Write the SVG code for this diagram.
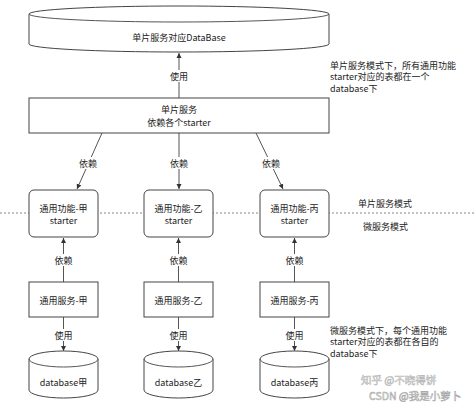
<svg xmlns="http://www.w3.org/2000/svg" width="474" height="404" viewBox="0 0 474 404">
<style>
text{font-family:"Noto Sans CJK SC","Noto Sans",sans-serif;font-size:9px;fill:#222;}
.c{text-anchor:middle;dominant-baseline:central;}
.n{text-anchor:start;dominant-baseline:central;}
.shape{fill:#fff;stroke:#444;stroke-width:1;}
.edge{fill:none;stroke:#555;stroke-width:1;}
.lbl{fill:#fff;stroke:none;}
.wm{font-size:10.5px;fill:#fff;stroke:#bbb;stroke-width:0.6;}
</style>
<defs>
<marker id="ah" markerUnits="userSpaceOnUse" markerWidth="6" markerHeight="6" refX="5" refY="3" orient="auto">
<path d="M0,0.5 L5,3 L0,5.5 z" fill="#333"/>
</marker>
</defs>
<rect width="474" height="404" fill="#fff"/>
<line x1="0" y1="213" x2="474" y2="213" stroke="#666" stroke-width="0.8" stroke-dasharray="2,2"/>
<g id="edges">
<line class="edge" x1="179" y1="98" x2="179" y2="53" marker-end="url(#ah)"/>
<rect class="lbl" x="168" y="70" width="22" height="12"/><text class="c" x="179" y="76">使用</text>
<line class="edge" x1="102" y1="133" x2="77" y2="189" marker-end="url(#ah)"/>
<rect class="lbl" x="77" y="157" width="22" height="12"/><text class="c" x="88" y="163">依赖</text>
<line class="edge" x1="179" y1="133" x2="179" y2="189" marker-end="url(#ah)"/>
<rect class="lbl" x="168" y="157" width="22" height="12"/><text class="c" x="179" y="163">依赖</text>
<line class="edge" x1="256" y1="133" x2="283" y2="189" marker-end="url(#ah)"/>
<rect class="lbl" x="260" y="157" width="22" height="12"/><text class="c" x="271" y="163">依赖</text>
<line class="edge" x1="63.5" y1="282" x2="63.5" y2="238" marker-end="url(#ah)"/>
<rect class="lbl" x="52.5" y="254" width="22" height="12"/><text class="c" x="63.5" y="260">依赖</text>
<line class="edge" x1="178.5" y1="282" x2="178.5" y2="238" marker-end="url(#ah)"/>
<rect class="lbl" x="167.5" y="254" width="22" height="12"/><text class="c" x="178.5" y="260">依赖</text>
<line class="edge" x1="294.5" y1="282" x2="294.5" y2="238" marker-end="url(#ah)"/>
<rect class="lbl" x="283.5" y="254" width="22" height="12"/><text class="c" x="294.5" y="260">依赖</text>
<line class="edge" x1="63.5" y1="317" x2="63.5" y2="351" marker-end="url(#ah)"/>
<rect class="lbl" x="52.5" y="329" width="22" height="12"/><text class="c" x="63.5" y="335">使用</text>
<line class="edge" x1="178.5" y1="317" x2="178.5" y2="351" marker-end="url(#ah)"/>
<rect class="lbl" x="167.5" y="329" width="22" height="12"/><text class="c" x="178.5" y="335">使用</text>
<line class="edge" x1="294.5" y1="317" x2="294.5" y2="351" marker-end="url(#ah)"/>
<rect class="lbl" x="283.5" y="329" width="22" height="12"/><text class="c" x="294.5" y="335">使用</text>
</g>
<g id="db-main">
<path class="shape" d="M29,14 L29,44 A150,8 0 0 0 329,44 L329,14 A150,8 0 0 0 29,14 Z"/>
<path class="edge" stroke="#444" d="M29,14 A150,8 0 0 0 329,14"/>
<text class="c" x="179" y="37">单片服务对应DataBase</text>
</g>
<g id="mono">
<rect class="shape" x="29" y="98" width="300" height="35"/>
<text class="c" x="179" y="109.5">单片服务</text>
<text class="c" x="179" y="122">依赖各个starter</text>
</g>
<g id="starter-a">
<rect class="shape" x="29" y="190" width="69" height="47" rx="5"/>
<text class="c" x="63.5" y="208">通用功能-甲</text>
<text class="c" x="63.5" y="220.5">starter</text>
</g>
<g id="starter-b">
<rect class="shape" x="144" y="190" width="69" height="47" rx="5"/>
<text class="c" x="178.5" y="208">通用功能-乙</text>
<text class="c" x="178.5" y="220.5">starter</text>
</g>
<g id="starter-c">
<rect class="shape" x="260" y="190" width="69" height="47" rx="5"/>
<text class="c" x="294.5" y="208">通用功能-丙</text>
<text class="c" x="294.5" y="220.5">starter</text>
</g>
<g id="svc-a">
<rect class="shape" x="29" y="282" width="69" height="35"/>
<text class="c" x="63.5" y="300">通用服务-甲</text>
</g>
<g id="svc-b">
<rect class="shape" x="144" y="282" width="69" height="35"/>
<text class="c" x="178.5" y="300">通用服务-乙</text>
</g>
<g id="svc-c">
<rect class="shape" x="260" y="282" width="69" height="35"/>
<text class="c" x="294.5" y="300">通用服务-丙</text>
</g>
<g id="db-a">
<path class="shape" d="M29,359 L29,390 A34.5,8 0 0 0 98,390 L98,359 A34.5,8 0 0 0 29,359 Z"/>
<path class="edge" stroke="#444" d="M29,359 A34.5,8 0 0 0 98,359"/>
<text class="c" x="63.5" y="382">database甲</text>
</g>
<g id="db-b">
<path class="shape" d="M144,359 L144,390 A34.5,8 0 0 0 213,390 L213,359 A34.5,8 0 0 0 144,359 Z"/>
<path class="edge" stroke="#444" d="M144,359 A34.5,8 0 0 0 213,359"/>
<text class="c" x="178.5" y="382">database乙</text>
</g>
<g id="db-c">
<path class="shape" d="M260,359 L260,390 A34.5,8 0 0 0 329,390 L329,359 A34.5,8 0 0 0 260,359 Z"/>
<path class="edge" stroke="#444" d="M260,359 A34.5,8 0 0 0 329,359"/>
<text class="c" x="294.5" y="382">database丙</text>
</g>
<g id="notes">
<text class="n" x="330" y="65">单片服务模式下，所有通用功能</text>
<text class="n" x="330" y="76.5">starter对应的表都在一个</text>
<text class="n" x="330" y="88">database下</text>
<text class="n" x="358" y="203">单片服务模式</text>
<text class="n" x="363" y="226">微服务模式</text>
<text class="n" x="330" y="330">微服务模式下，每个通用功能</text>
<text class="n" x="330" y="341.5">starter对应的表都在各自的</text>
<text class="n" x="330" y="353">database下</text>
</g>
<g id="watermark">
<text class="n wm" x="361" y="379.5">知乎 @不晓得饼</text>
<text class="n wm" x="369" y="395" style="stroke:#aaa">CSDN @我是小萝卜</text>
</g>
</svg>
